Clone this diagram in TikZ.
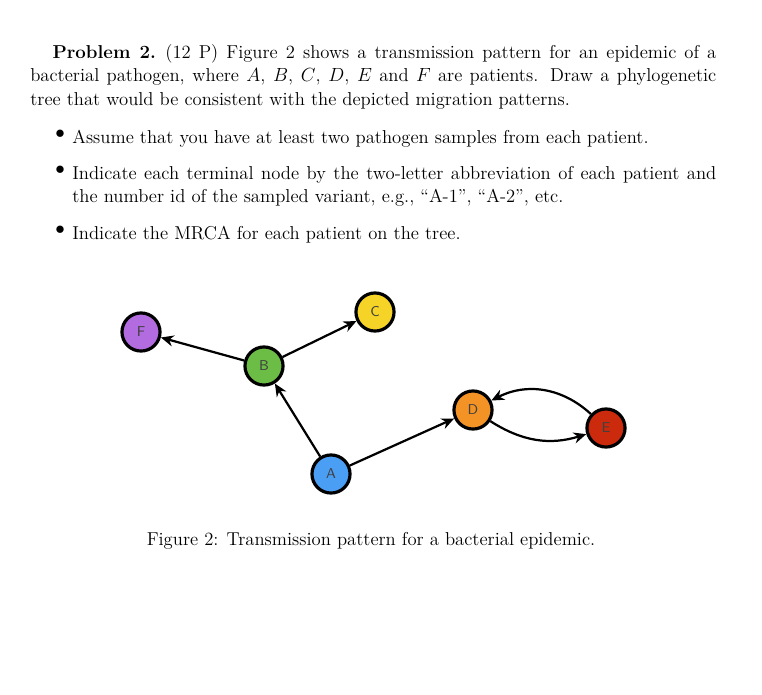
\documentclass[tikz,border=0pt]{standalone}
\usetikzlibrary{arrows.meta}
\definecolor{cF}{HTML}{B36BE0}
\definecolor{cC}{HTML}{F5D327}
\definecolor{cB}{HTML}{6CBD45}
\definecolor{cD}{HTML}{F39325}
\definecolor{cE}{HTML}{CC2A0C}
\definecolor{cA}{HTML}{4A9FF5}
\begin{document}
\begin{tikzpicture}[x=0.63pt,y=-0.63pt,
  pat/.style={circle,draw=black,line width=2pt,minimum size=24pt,inner sep=0pt,font=\sffamily\fontsize{9}{10}\selectfont,text=black!75},
  edge/.style={-{Stealth[length=8pt,width=7pt]},line width=1.4pt},
  txt/.style={anchor=north west,inner sep=0pt,align=justify,font=\fontsize{11.75}{14.8}\selectfont}]
\useasboundingbox (0,0) rectangle (762,694);
\node[txt,text width=686*0.63pt] (p) at (30,44) {\hspace*{14pt}\textbf{Problem 2.}\enspace (12 P) Figure 2 shows a transmission pattern for an epidemic of a bacterial pathogen, where $A$, $B$, $C$, $D$, $E$ and $F$ are patients. Draw a phylogenetic tree that would be consistent with the depicted migration patterns.};
\node[txt] (b1) at (55,130) {\raisebox{-1.5pt}{$\bullet$}};
\node[txt,text width=644*0.63pt] (i1) at (72,130) {Assume that you have at least two pathogen samples from each patient.};
\node[txt] (b2) at (55,166) {\raisebox{-1.5pt}{$\bullet$}};
\node[txt,text width=644*0.63pt] (i2) at (72,166) {Indicate each terminal node by the two-letter abbreviation of each patient and the number id of the sampled variant, e.g., ``A-1'', ``A-2'', etc.};
\node[txt] (b3) at (55,226) {\raisebox{-1.5pt}{$\bullet$}};
\node[txt,text width=644*0.63pt] (i3) at (72,226) {Indicate the MRCA for each patient on the tree.};
\node[font=\fontsize{11.75}{14.8}\selectfont,inner sep=0pt] (cap) at (371,541) {Figure 2: Transmission pattern for a bacterial epidemic.};
\node[pat,fill=cF] (F) at (141,332) {F};
\node[pat,fill=cC] (C) at (375,312) {C};
\node[pat,fill=cB] (B) at (264,366) {B};
\node[pat,fill=cD] (D) at (473,410) {D};
\node[pat,fill=cE] (E) at (606,428) {E};
\node[pat,fill=cA] (A) at (331,474) {A};
\draw[edge] (B) -- (F);
\draw[edge] (B) -- (C);
\draw[edge] (A) -- (B);
\draw[edge] (A) -- (D);
\draw[edge] (D) to[bend right=25] (E);
\draw[edge] (E) to[bend right=35] (D);
\end{tikzpicture}
\end{document}
